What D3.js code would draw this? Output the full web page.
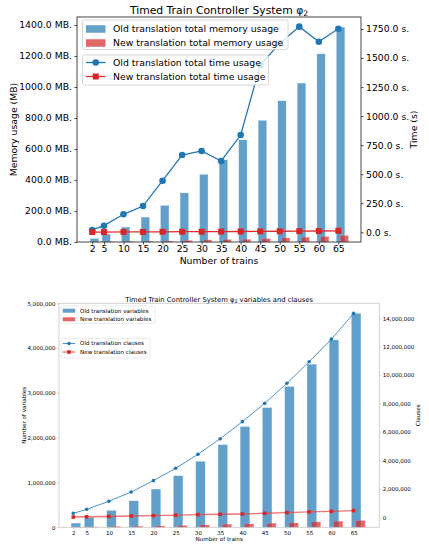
<!DOCTYPE html>
<html><head><meta charset="utf-8">
<script src="https://cdn.jsdelivr.net/npm/d3@7"></script>
<style>
html,body{margin:0;padding:0;background:#fff;}
svg{display:block;font-family:"DejaVu Sans",sans-serif;}
</style></head>
<body><svg id="c" width="429" height="550"></svg>
<script>
// ---- data ----
const trains = [2,5,10,15,20,25,30,35,40,45,50,55,60,65];
// chart 1
const oldMem  = [21,50,95,159,234,316,434,529,658,783,910,1024,1213,1385];
const newMem  = [1,1,2,4,6,9,13,15,17,21,26,30,34,41];
const oldTime = [20,57,155,226,444,665,700,614,837,1440,1626,1770,1640,1752];
const newTime = [2,2,3,3,4,5,5,6,7,8,9,10,11,13];
const memTicks  = [0,200,400,600,800,1000,1200,1400];
const timeTicks = [0,250,500,750,1000,1250,1500,1750];
// chart 2
const oldVars = [90e3,215e3,371e3,588e3,849e3,1147e3,1467e3,1840e3,2243e3,2667e3,3137e3,3636e3,4180e3,4770e3];
const newVars = [3e3,7e3,15e3,22e3,29e3,37e3,51e3,67e3,74e3,89e3,96e3,119e3,134e3,148e3];
const oldClauses = [0.28e6,0.56e6,1.13e6,1.78e6,2.58e6,3.45e6,4.43e6,5.53e6,6.73e6,8.02e6,9.43e6,10.95e6,12.54e6,14.35e6];
const newClauses = [0.02e6,0.04e6,0.06e6,0.09e6,0.12e6,0.15e6,0.19e6,0.21e6,0.23e6,0.28e6,0.33e6,0.38e6,0.42e6,0.47e6];
const varTicks = [0,1e6,2e6,3e6,4e6,5e6];
const clauseTicks = [0,2e6,4e6,6e6,8e6,10e6,12e6,14e6];

const BLUE="#1f77b4", RED="#d62728";
const BARFILL_B="rgba(31,119,180,0.7)", BARFILL_R="rgba(214,39,40,0.7)";
const svg = d3.select("#c");

function chart(o){
  const g = svg.append("g");
  const x = d3.scaleLinear().domain(o.xd).range([o.L,o.R]);
  const yL = d3.scaleLinear().domain(o.yLd).range([o.B,o.T]);
  const yR = d3.scaleLinear().domain(o.yRd).range([o.B,o.T]);
  const bw = 2.05;
  // bars
  g.append("g").selectAll("rect").data(trains).join("rect")
    .attr("x",d=>x(d-0.45)).attr("width",d=>x(d-0.45+bw)-x(d-0.45))
    .attr("y",(d,i)=>yL(o.b1[i])).attr("height",(d,i)=>yL(0)-yL(o.b1[i]))
    .attr("fill",BARFILL_B).attr("stroke","rgba(120,180,220,0.6)").attr("stroke-width",0.5);
  g.append("g").selectAll("rect").data(trains).join("rect")
    .attr("x",d=>x(d+0.5)).attr("width",d=>x(d+0.5+bw)-x(d+0.5))
    .attr("y",(d,i)=>yL(o.b2[i])).attr("height",(d,i)=>yL(0)-yL(o.b2[i]))
    .attr("fill",BARFILL_R).attr("stroke","rgba(240,140,140,0.6)").attr("stroke-width",0.5);
  // lines
  const line = arr => d3.line().x((d,i)=>x(d)).y((d,i)=>yR(arr[i]))(trains);
  g.append("path").attr("d",line(o.l1)).attr("fill","none").attr("stroke",BLUE).attr("stroke-width",o.lw);
  g.selectAll(".m1").data(trains).join("circle").attr("cx",d=>x(d)).attr("cy",(d,i)=>yR(o.l1[i]))
    .attr("r",o.mr).attr("fill",BLUE);
  g.append("path").attr("d",line(o.l2)).attr("fill","none").attr("stroke",o.redLine).attr("stroke-width",o.lw2);
  g.selectAll(".m2").data(trains).join("rect").attr("x",d=>x(d)-o.ms/2).attr("y",(d,i)=>yR(o.l2[i])-o.ms/2)
    .attr("width",o.ms).attr("height",o.ms).attr("fill",RED);
  // spines
  g.append("rect").attr("x",o.L).attr("y",o.T).attr("width",o.R-o.L).attr("height",o.B-o.T)
    .attr("fill","none").attr("stroke",o.spine).attr("stroke-width",o.sw);
  // axes
  const fmtL = o.fmtL, fmtR = o.fmtR;
  const ax = (axis, tr) => {
    const a = g.append("g").attr("transform",tr).call(axis);
    a.select(".domain").remove();
    a.selectAll("line").attr("stroke",o.spine).attr("stroke-width",o.sw);
    a.selectAll("text").attr("font-size",o.fs).attr("fill","#000").attr("font-family","DejaVu Sans");
    return a;
  };
  ax(d3.axisLeft(yL).tickValues(o.tL).tickFormat(fmtL).tickSize(o.tk).tickPadding(o.tp),`translate(${o.L},0)`);
  ax(d3.axisRight(yR).tickValues(o.tR).tickFormat(fmtR).tickSize(o.tk).tickPadding(o.tp),`translate(${o.R},0)`);
  ax(d3.axisBottom(x).tickValues(trains).tickFormat(d3.format("d")).tickSize(o.tk).tickPadding(o.tpx),`translate(0,${o.B})`);
  // labels
  g.append("text").attr("x",(o.L+o.R)/2).attr("y",o.titleY).attr("text-anchor","middle")
    .attr("font-size",o.tfs).text(o.title1).append("tspan").attr("font-size",o.tfs*0.7).attr("dy",o.tfs*0.25).text("2")
    .select(function(){return this.parentNode;}).append("tspan").attr("dy",-o.tfs*0.25).text(o.title2);
  g.append("text").attr("x",(o.L+o.R)/2).attr("y",o.xlY).attr("text-anchor","middle").attr("font-size",o.lfs).text("Number of trains");
  g.append("text").attr("transform",`translate(${o.ylX},${(o.T+o.B)/2}) rotate(-90)`).attr("text-anchor","middle")
    .attr("font-size",o.lfs).text(o.ylab);
  g.append("text").attr("transform",`translate(${o.yrX},${(o.T+o.B)/2}) rotate(-90)`).attr("text-anchor","middle")
    .attr("font-size",o.lfs).text(o.yrab);
  // legends
  const lg1=o.lg1, lg2=o.lg2;
  g.append("rect").attr("x",lg1.x).attr("y",lg1.y).attr("width",lg1.w).attr("height",lg1.h).attr("rx",2)
    .attr("fill","rgba(255,255,255,0.8)").attr("stroke",o.lgStroke).attr("stroke-width",0.8);
  g.append("rect").attr("x",lg1.px).attr("y",lg1.r1-lg1.ph/2).attr("width",lg1.pw).attr("height",lg1.ph).attr("fill",BARFILL_B);
  g.append("rect").attr("x",lg1.px).attr("y",lg1.r2-lg1.ph/2).attr("width",lg1.pw).attr("height",lg1.ph).attr("fill",BARFILL_R);
  g.append("text").attr("x",lg1.tx).attr("y",lg1.r1).attr("dy","0.35em").attr("font-size",o.lgfs).text(o.names[0]);
  g.append("text").attr("x",lg1.tx).attr("y",lg1.r2).attr("dy","0.35em").attr("font-size",o.lgfs).text(o.names[1]);
  g.append("rect").attr("x",lg2.x).attr("y",lg2.y).attr("width",lg2.w).attr("height",lg2.h).attr("rx",2)
    .attr("fill","rgba(255,255,255,0.8)").attr("stroke",o.lgStroke).attr("stroke-width",0.8);
  g.append("line").attr("x1",lg1.px).attr("x2",lg1.px+lg1.pw).attr("y1",lg2.r1).attr("y2",lg2.r1).attr("stroke",BLUE).attr("stroke-width",o.lw);
  g.append("circle").attr("cx",lg1.px+lg1.pw/2).attr("cy",lg2.r1).attr("r",o.mr).attr("fill",BLUE);
  g.append("line").attr("x1",lg1.px).attr("x2",lg1.px+lg1.pw).attr("y1",lg2.r2).attr("y2",lg2.r2).attr("stroke",o.redLine).attr("stroke-width",o.lw2);
  g.append("rect").attr("x",lg1.px+lg1.pw/2-o.ms/2).attr("y",lg2.r2-o.ms/2).attr("width",o.ms).attr("height",o.ms).attr("fill",RED);
  g.append("text").attr("x",lg1.tx).attr("y",lg2.r1).attr("dy","0.35em").attr("font-size",o.lgfs).text(o.names[2]);
  g.append("text").attr("x",lg1.tx).attr("y",lg2.r2).attr("dy","0.35em").attr("font-size",o.lgfs).text(o.names[3]);
}

chart({
  L:77,R:361,T:17,B:242, xd:[-1.9,70.8], yLd:[0,1451.6], yRd:[-83.5,1853],
  b1:oldMem,b2:newMem,l1:oldTime,l2:newTime,tL:memTicks,tR:timeTicks,
  fmtL:d=>d3.format(".1f")(d)+" MB.", fmtR:d=>d3.format(".1f")(d)+" s.",
  lw:1.3,lw2:1.3,mr:3.3,ms:6,redLine:"#e32b2b",spine:"#333",sw:0.9,tk:2.5,tp:2.5,tpx:1,fs:9.3,
  title1:"Timed Train Controller System φ",title2:"",titleY:13.5,tfs:10.8,
  xlY:263.5,lfs:9.3,ylX:17,yrX:417,ylab:"Memory usage (MB)",yrab:"Time (s)",
  lgStroke:"#ccc",lgfs:9.3,
  lg1:{x:82.5,y:20,w:205.5,h:29.5,px:86,pw:19.5,ph:7.5,tx:113,r1:29,r2:43},
  lg2:{x:82.5,y:55,w:186,h:30,r1:62.5,r2:76.5},
  names:["Old translation total memory usage","New translation total memory usage","Old translation total time usage","New translation total time usage"]
});

chart({
  L:59,R:379.3,T:303.3,B:527.3, xd:[-1.21,70.76], yLd:[0,5e6], yRd:[-0.704e6,15.06e6],
  b1:oldVars,b2:newVars,l1:oldClauses,l2:newClauses,tL:varTicks,tR:clauseTicks,
  fmtL:d3.format(","), fmtR:d3.format(","),
  lw:0.8,lw2:1.4,mr:1.8,ms:3.6,redLine:"rgba(228,70,70,0.75)",spine:"#c8c8c8",sw:0.8,tk:2,tp:1.5,tpx:1.5,fs:5.5,
  title1:"Timed Train Controller System φ",title2:" variables and clauses",titleY:301.5,tfs:6.8,
  xlY:540.5,lfs:5.6,ylX:26,yrX:419.5,ylab:"Number of variables",yrab:"Clauses",
  lgStroke:"#e6e6e6",lgfs:5.6,
  lg1:{x:61,y:306,w:94,h:17.5,px:62.7,pw:12.5,ph:4,tx:80,r1:310.7,r2:319.3},
  lg2:{x:61,y:338.5,w:89,h:19.5,r1:343.5,r2:352},
  names:["Old translation variables","New translation variables","Old translation clauses","New translation clauses"]
});
</script></body></html>
